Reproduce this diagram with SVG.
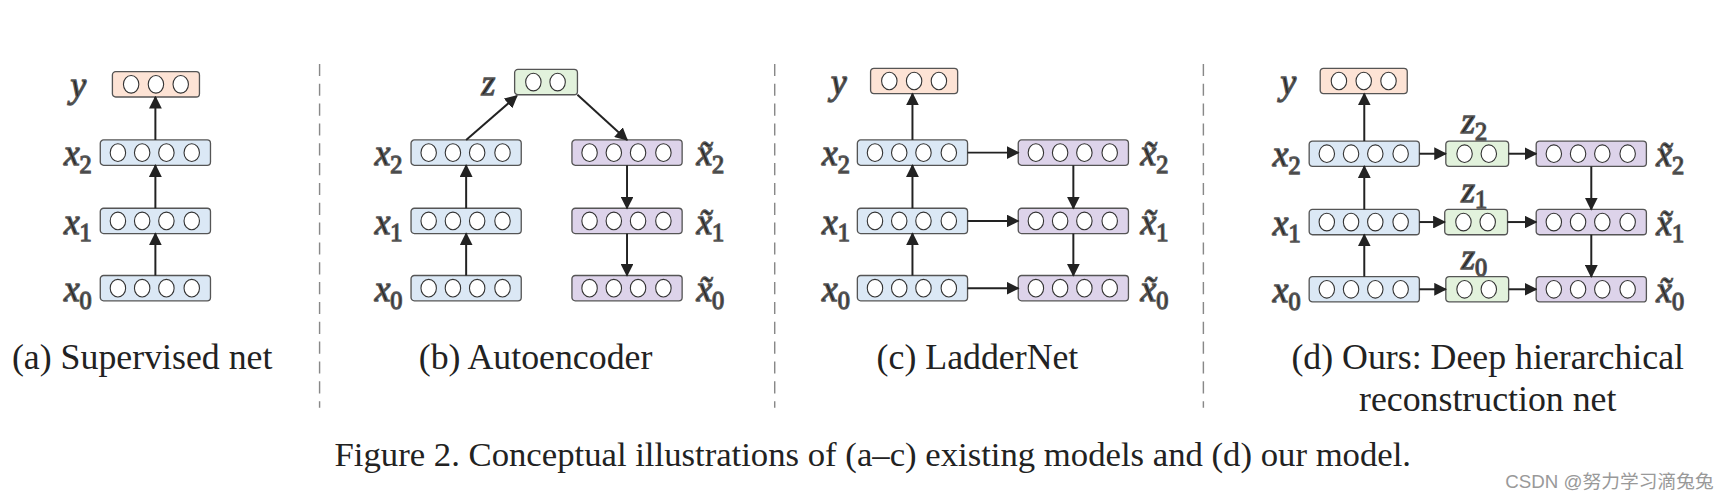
<svg xmlns="http://www.w3.org/2000/svg" xmlns:xlink="http://www.w3.org/1999/xlink" width="1728" height="500" viewBox="0 0 1728 500">
<style>
.bx{stroke:#555;stroke-width:1.2}
.c{fill:#fff;stroke:#333;stroke-width:1}
.bl{fill:#dbe8f5}.pu{fill:#ddd3ea}.or{fill:#fde3d5}.gr{fill:#e2f2dc}
.lb{font-family:"Liberation Serif",serif;font-style:italic;font-size:32px;fill:#222}
.lz{font-family:"Liberation Serif",serif;font-style:italic;font-size:32px;fill:#222}
.sb{font-size:22px;font-style:normal}
.cap{font-family:"Liberation Serif",serif;font-size:32.5px;fill:#222;text-anchor:middle}
.dash{stroke:#888;stroke-width:1.3;stroke-dasharray:11,7}
.ar{stroke:#222;stroke-width:1.8;fill:none;marker-end:url(#ah)}
</style>
<defs>
<marker id="ah" viewBox="0 0 10 10" refX="9" refY="5" markerWidth="6.5" markerHeight="6.5" orient="auto" markerUnits="strokeWidth"><path d="M0,0L10,5L0,10z" fill="#222"/></marker>
<g id="b4"><rect width="100" height="23" rx="3"/><ellipse class="c" cx="16" cy="11.5" rx="7" ry="8"/><ellipse class="c" cx="38" cy="11.5" rx="7" ry="8"/><ellipse class="c" cx="60" cy="11.5" rx="7" ry="8"/><ellipse class="c" cx="83" cy="11.5" rx="7" ry="8"/></g>
<g id="b3"><rect width="79" height="23" rx="3"/><ellipse class="c" cx="17" cy="11.5" rx="7" ry="8"/><ellipse class="c" cx="39.5" cy="11.5" rx="7" ry="8"/><ellipse class="c" cx="62" cy="11.5" rx="7" ry="8"/></g>
<g id="b2"><rect width="57" height="23" rx="3"/><ellipse class="c" cx="17" cy="11.5" rx="7" ry="8"/><ellipse class="c" cx="39" cy="11.5" rx="7" ry="8"/></g>
</defs>
<rect width="1728" height="500" fill="#fff"/>
<g transform="scale(1.102)">
<g id="dividers"><line class="dash" x1="290" y1="58" x2="290" y2="370"/><line class="dash" x1="703" y1="58" x2="703" y2="370"/><line class="dash" x1="1092" y1="58" x2="1092" y2="370"/></g>
<g id="a-y" class="bx or"><use xlink:href="#b3" x="102" y="65"/><text class="lb" x="64" y="88">y</text></g>
<g id="a-x2" class="bx bl"><use xlink:href="#b4" x="91" y="127"/><text class="lb" x="58" y="150">x<tspan class="sb" dy="7">2</tspan></text></g>
<g id="a-x1" class="bx bl"><use xlink:href="#b4" x="91" y="189"/><text class="lb" x="58" y="212">x<tspan class="sb" dy="7">1</tspan></text></g>
<g id="a-x0" class="bx bl"><use xlink:href="#b4" x="91" y="250"/><text class="lb" x="58" y="273">x<tspan class="sb" dy="7">0</tspan></text></g>
<g id="b-z" class="bx gr"><use xlink:href="#b2" x="467" y="63"/><text class="lb" x="437" y="86">z</text></g>
<g id="b-x2" class="bx bl"><use xlink:href="#b4" x="373" y="127"/><text class="lb" x="340" y="150">x<tspan class="sb" dy="7">2</tspan></text></g>
<g id="b-x1" class="bx bl"><use xlink:href="#b4" x="373" y="189"/><text class="lb" x="340" y="212">x<tspan class="sb" dy="7">1</tspan></text></g>
<g id="b-x0" class="bx bl"><use xlink:href="#b4" x="373" y="250"/><text class="lb" x="340" y="273">x<tspan class="sb" dy="7">0</tspan></text></g>
<g id="b-r2" class="bx pu"><use xlink:href="#b4" x="519" y="127"/><text class="lb" x="632" y="150">x&#x303;<tspan class="sb" dy="7">2</tspan></text></g>
<g id="b-r1" class="bx pu"><use xlink:href="#b4" x="519" y="189"/><text class="lb" x="632" y="212">x&#x303;<tspan class="sb" dy="7">1</tspan></text></g>
<g id="b-r0" class="bx pu"><use xlink:href="#b4" x="519" y="250"/><text class="lb" x="632" y="273">x&#x303;<tspan class="sb" dy="7">0</tspan></text></g>
<g id="c-y" class="bx or"><use xlink:href="#b3" x="790" y="62"/><text class="lb" x="754" y="85">y</text></g>
<g id="c-x2" class="bx bl"><use xlink:href="#b4" x="778" y="127"/><text class="lb" x="746" y="150">x<tspan class="sb" dy="7">2</tspan></text></g>
<g id="c-x1" class="bx bl"><use xlink:href="#b4" x="778" y="189"/><text class="lb" x="746" y="212">x<tspan class="sb" dy="7">1</tspan></text></g>
<g id="c-x0" class="bx bl"><use xlink:href="#b4" x="778" y="250"/><text class="lb" x="746" y="273">x<tspan class="sb" dy="7">0</tspan></text></g>
<g id="c-r2" class="bx pu"><use xlink:href="#b4" x="924" y="127"/><text class="lb" x="1035" y="150">x&#x303;<tspan class="sb" dy="7">2</tspan></text></g>
<g id="c-r1" class="bx pu"><use xlink:href="#b4" x="924" y="189"/><text class="lb" x="1035" y="212">x&#x303;<tspan class="sb" dy="7">1</tspan></text></g>
<g id="c-r0" class="bx pu"><use xlink:href="#b4" x="924" y="250"/><text class="lb" x="1035" y="273">x&#x303;<tspan class="sb" dy="7">0</tspan></text></g>
<g id="d-y" class="bx or"><use xlink:href="#b3" x="1198" y="62"/><text class="lb" x="1162" y="85">y</text></g>
<g id="d-x2" class="bx bl"><use xlink:href="#b4" x="1188" y="128"/><text class="lb" x="1155" y="151">x<tspan class="sb" dy="7">2</tspan></text></g>
<g id="d-x1" class="bx bl"><use xlink:href="#b4" x="1188" y="190"/><text class="lb" x="1155" y="213">x<tspan class="sb" dy="7">1</tspan></text></g>
<g id="d-x0" class="bx bl"><use xlink:href="#b4" x="1188" y="251"/><text class="lb" x="1155" y="274">x<tspan class="sb" dy="7">0</tspan></text></g>
<g id="d-z2" class="bx gr"><use xlink:href="#b2" x="1312" y="128"/><text class="lz" x="1326" y="121">z<tspan class="sb" dy="6">2</tspan></text></g>
<g id="d-z1" class="bx gr"><use xlink:href="#b2" x="1311" y="190"/><text class="lz" x="1326" y="183">z<tspan class="sb" dy="6">1</tspan></text></g>
<g id="d-z0" class="bx gr"><use xlink:href="#b2" x="1312" y="251"/><text class="lz" x="1326" y="244">z<tspan class="sb" dy="6">0</tspan></text></g>
<g id="d-r2" class="bx pu"><use xlink:href="#b4" x="1394" y="128"/><text class="lb" x="1503" y="151">x&#x303;<tspan class="sb" dy="7">2</tspan></text></g>
<g id="d-r1" class="bx pu"><use xlink:href="#b4" x="1394" y="190"/><text class="lb" x="1503" y="213">x&#x303;<tspan class="sb" dy="7">1</tspan></text></g>
<g id="d-r0" class="bx pu"><use xlink:href="#b4" x="1394" y="251"/><text class="lb" x="1503" y="274">x&#x303;<tspan class="sb" dy="7">0</tspan></text></g>
<g id="connectors">
<line class="ar" x1="141" y1="250" x2="141" y2="212"/><line class="ar" x1="141" y1="189" x2="141" y2="150"/><line class="ar" x1="141" y1="127" x2="141" y2="88"/>
<line class="ar" x1="423" y1="250" x2="423" y2="212"/><line class="ar" x1="423" y1="189" x2="423" y2="150"/><line class="ar" x1="423" y1="127" x2="469" y2="87"/>
<line class="ar" x1="524" y1="86" x2="569" y2="127"/><line class="ar" x1="569" y1="150" x2="569" y2="189"/><line class="ar" x1="569" y1="212" x2="569" y2="250"/>
<line class="ar" x1="828" y1="250" x2="828" y2="212"/><line class="ar" x1="828" y1="189" x2="828" y2="150"/><line class="ar" x1="828" y1="127" x2="828" y2="85"/>
<line class="ar" x1="878" y1="138.5" x2="924" y2="138.5"/><line class="ar" x1="878" y1="200.5" x2="924" y2="200.5"/><line class="ar" x1="878" y1="261.5" x2="924" y2="261.5"/>
<line class="ar" x1="974" y1="150" x2="974" y2="189"/><line class="ar" x1="974" y1="212" x2="974" y2="250"/>
<line class="ar" x1="1238" y1="251" x2="1238" y2="213"/><line class="ar" x1="1238" y1="190" x2="1238" y2="151"/><line class="ar" x1="1238" y1="128" x2="1238" y2="85"/>
<line class="ar" x1="1288" y1="139.5" x2="1312" y2="139.5"/><line class="ar" x1="1288" y1="201.5" x2="1311" y2="201.5"/><line class="ar" x1="1288" y1="262.5" x2="1312" y2="262.5"/>
<line class="ar" x1="1369" y1="139.5" x2="1394" y2="139.5"/><line class="ar" x1="1368" y1="201.5" x2="1394" y2="201.5"/><line class="ar" x1="1369" y1="262.5" x2="1394" y2="262.5"/>
<line class="ar" x1="1444" y1="151" x2="1444" y2="190"/><line class="ar" x1="1444" y1="213" x2="1444" y2="251"/>
</g>
<g id="captions">
<text class="cap" x="129" y="335">(a) Supervised net</text>
<text class="cap" x="486" y="335">(b) Autoencoder</text>
<text class="cap" x="887" y="335">(c) LadderNet</text>
<text class="cap" x="1350" y="335">(d) Ours: Deep hierarchical</text>
<text class="cap" x="1350" y="373">reconstruction net</text>
<text class="cap" x="792" y="423" style="font-size:31.5px">Figure 2. Conceptual illustrations of (a–c) existing models and (d) our model.</text>
<text x="1555" y="443" style="font-family:'Liberation Sans','Noto Sans CJK SC',sans-serif;font-size:17px;fill:#999;text-anchor:end">CSDN @努力学习滴兔兔</text>
</g>
</g>
</svg>
